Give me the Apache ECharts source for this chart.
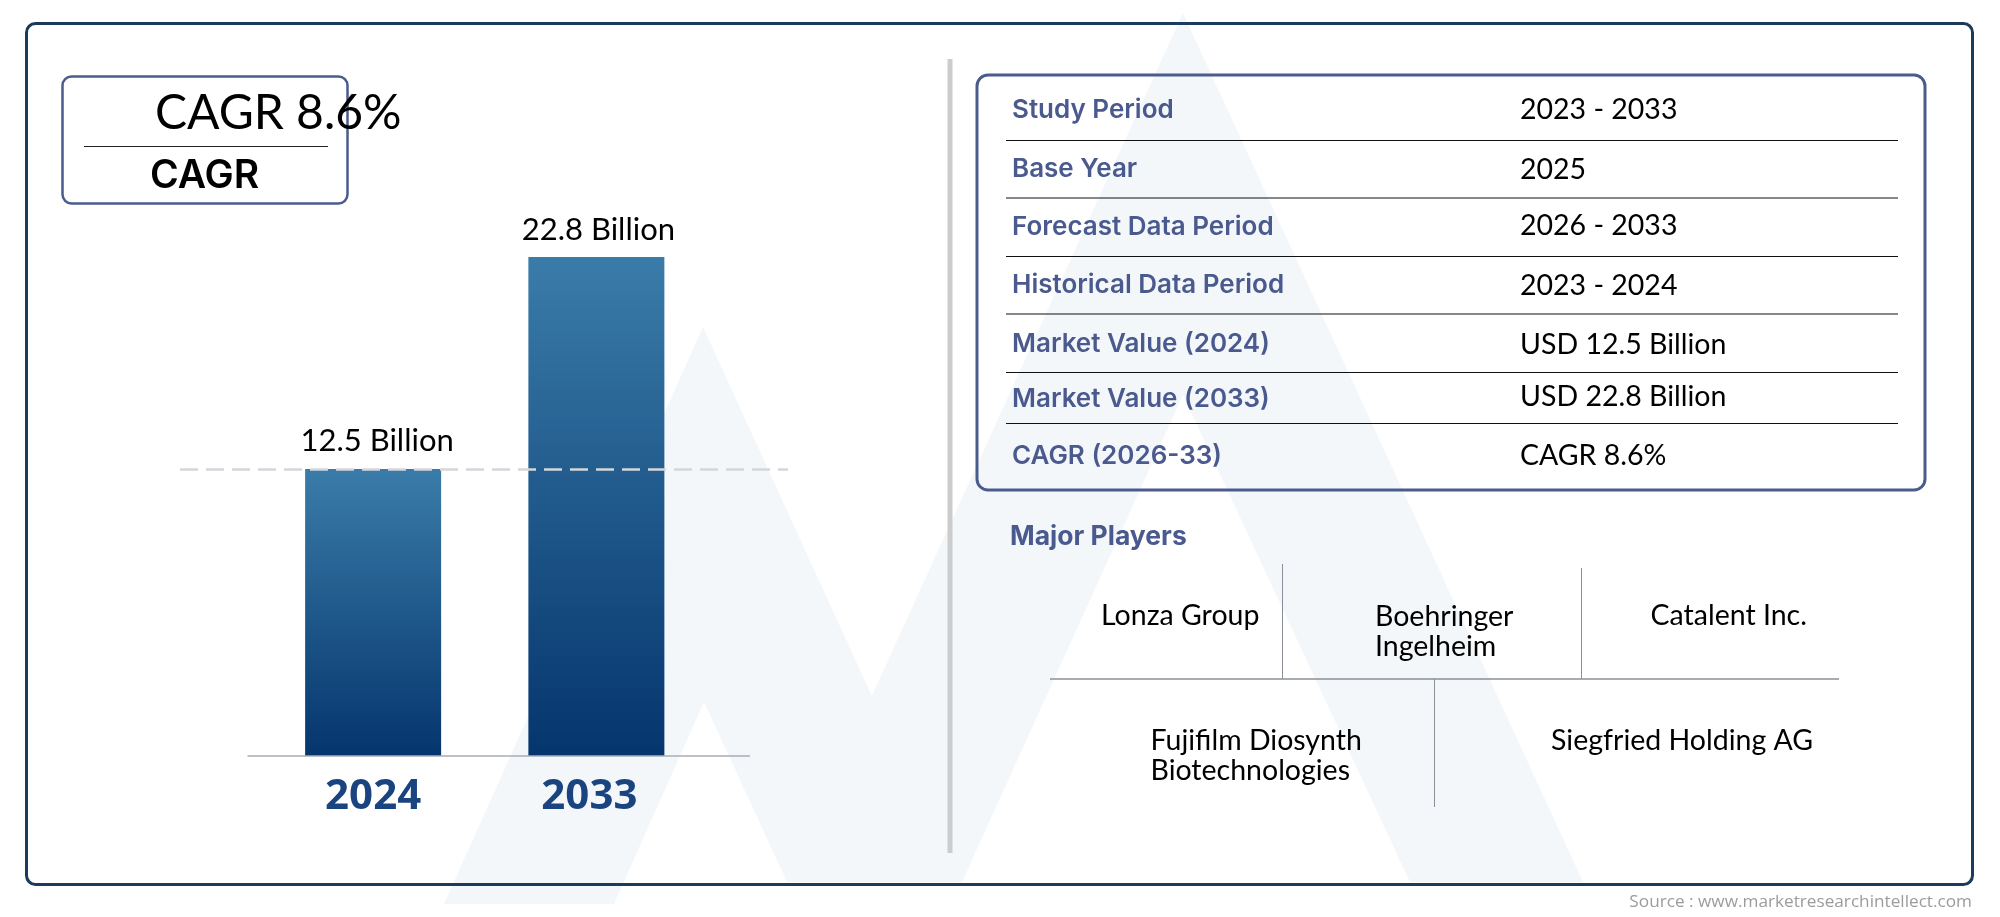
<!DOCTYPE html>
<html>
<head>
<meta charset="utf-8">
<style>
  html, body { margin: 0; padding: 0; background: #fff; }
  #main { width: 2000px; height: 917px; }
</style>
<script src="https://cdn.jsdelivr.net/npm/echarts@6/dist/echarts.min.js"></script>
</head>
<body>
<div id="main"></div>
<script>
// chart data
var years = ['2024', '2033'];
var marketValues = [12.5, 22.8];
var cagrValue = 'CAGR 8.6%';
var cagrLabel = 'CAGR';
var tableLabels = ['Study Period', 'Base Year', 'Forecast Data Period', 'Historical Data Period', 'Market Value (2024)', 'Market Value (2033)', 'CAGR (2026-33)'];
var tableValues = ['2023 - 2033', '2025', '2026 - 2033', '2023 - 2024', 'USD 12.5 Billion', 'USD 22.8 Billion', 'CAGR 8.6%'];
var playersTitle = 'Major Players';
var players = ['Lonza Group', 'Boehringer\nIngelheim', 'Catalent Inc.', 'Fujifilm Diosynth\nBiotechnologies', 'Siegfried Holding AG'];
var sourceText = 'Source : www.marketresearchintellect.com';

// layout, in page pixels
var labelRowY = [110, 169, 227.5, 285.5, 344, 399.5, 456.5];
var valueRowY = [110, 170, 226, 286, 345, 397, 455.5];
var separatorY = [140.5, 198, 256.5, 314, 372.5, 423.5];
var playerX = [1101, 1375, 1650.5, 1150.5, 1551];
var playerY = [616, 631.5, 616, 756, 741];
var labelOffsets = [[4, 0], [2, 0]];

var labelColor = '#4a5a8e';
var bodyFont = 'Lato';
var headFont = 'Inter';

function line(x1, y1, x2, y2, color, width) {
    return {
        type: 'line',
        silent: true,
        z: 1,
        shape: { x1: x1, y1: y1, x2: x2, y2: y2 },
        style: { stroke: color, lineWidth: width }
    };
}

function box(x, y, w, h, r, color, width) {
    return {
        type: 'rect',
        silent: true,
        z: 1,
        shape: { x: x, y: y, width: w, height: h, r: r },
        style: { fill: 'transparent', stroke: color, lineWidth: width }
    };
}

function text(str, x, y, font, size, weight, color, align, lineHeight) {
    return {
        type: 'text',
        silent: true,
        z: 5,
        style: {
            text: str,
            x: x,
            y: y,
            fill: color,
            font: weight + ' ' + size + 'px "' + font + '"',
            align: align || 'left',
            verticalAlign: 'middle',
            lineHeight: lineHeight
        }
    };
}

function watermark(points) {
    return {
        type: 'polygon',
        silent: true,
        z: -1,
        shape: { points: points },
        style: { fill: '#f4f7fa' }
    };
}

var graphics = [
    // pale logo behind everything
    watermark([[703, 327], [957, 882], [787, 882], [704, 702], [614, 904], [444, 904]]),
    watermark([[1183, 13], [1583, 882], [1410, 882], [1183, 395], [962, 882], [787, 882]]),
    // frames
    box(26.5, 23.5, 1946, 861, 9, '#1b3b5a', 3),
    box(62.5, 76.5, 285, 127, 9, '#4a5c8c', 2.5),
    box(977, 75, 948, 415, 11, '#4a5c8c', 3),
    line(950, 59, 950, 853, '#cccccc', 5),
    // CAGR box
    line(84, 146.5, 328, 146.5, '#222222', 1),
    text(cagrValue, 155, 113.5, bodyFont, 48, 'normal', '#000000'),
    text(cagrLabel, 150, 176, headFont, 39, 600, '#000000'),
    // players dividers
    line(1050, 679, 1839, 679, '#8a8f99', 1.5),
    line(1282.5, 564, 1282.5, 679, '#8a8f99', 1),
    line(1581.5, 568, 1581.5, 679, '#8a8f99', 1),
    line(1434.5, 679, 1434.5, 807, '#8a8f99', 1),
    text(playersTitle, 1010, 537, headFont, 26.5, 700, labelColor),
    text(sourceText, 1972, 902, 'Open Sans', 17.2, 'normal', '#9c9c9c', 'right')
];

tableLabels.forEach(function (label, i) {
    graphics.push(text(label, 1012, labelRowY[i], headFont, 26, 600, labelColor));
});
tableValues.forEach(function (value, i) {
    graphics.push(text(value, 1520, valueRowY[i], bodyFont, 28.5, 'normal', '#000000'));
});
separatorY.forEach(function (y) {
    graphics.push(line(1006, y, 1898, y, '#111111', 1.2));
});
players.forEach(function (name, i) {
    graphics.push(text(name, playerX[i], playerY[i], bodyFont, 28.5, 'normal', '#000000', 'left', 30));
});

var chart = echarts.init(document.getElementById('main'));

// the picture's bars do not start at a true zero, so the axis starts a little below it
var yMin = -1.445;
var barWidth = 136;
var barFill = new echarts.graphic.LinearGradient(0, 0, 0, 1, [
    { offset: 0, color: '#3a7ca9' },
    { offset: 1, color: '#05356d' }
]);

function renderBar(params, api) {
    var idx = api.value(0);
    var top = api.coord([idx, api.value(1)]);
    var base = api.coord([idx, yMin]);
    return {
        type: 'rect',
        shape: { x: top[0] - barWidth / 2, y: top[1], width: barWidth, height: base[1] - top[1] },
        style: { fill: barFill },
        textContent: {
            type: 'text',
            style: {
                text: api.value(1) + ' Billion',
                fill: '#000000',
                font: 'normal 31px "' + bodyFont + '"'
            }
        },
        textConfig: { position: 'top', distance: 12, offset: labelOffsets[params.dataIndex] }
    };
}

chart.setOption({
    animation: false,
    backgroundColor: '#ffffff',
    graphic: graphics,
    grid: { left: 261.5, top: 257, width: 446.5, height: 499 },
    xAxis: {
        type: 'category',
        data: [years[0], { value: years[1], textStyle: { padding: [0, 14, 0, 0] } }],
        axisLine: { show: false },
        axisTick: { show: false },
        axisLabel: {
            margin: 20,
            color: '#1a4480',
            fontFamily: 'Open Sans',
            fontWeight: 'bold',
            fontSize: 42
        }
    },
    yAxis: { type: 'value', show: false, min: yMin, max: marketValues[1] },
    series: [{
        type: 'custom',
        coordinateSystem: 'cartesian2d',
        z: 2,
        clip: false,
        renderItem: renderBar,
        encode: { x: 0, y: 1 },
        data: marketValues.map(function (v, i) { return [i, v]; }),
        markLine: {
            silent: true,
            symbol: 'none',
            label: { show: false },
            animation: false,
            data: [
                [
                    { x: 180, yAxis: marketValues[0], lineStyle: { color: '#d4d6da', width: 2.5, type: [18, 8] } },
                    { x: 788, yAxis: marketValues[0] }
                ],
                [
                    { x: 247.5, yAxis: yMin, lineStyle: { color: '#a9adb5', width: 1.5, type: 'solid' } },
                    { x: 750, yAxis: yMin }
                ]
            ]
        }
    }]
});
</script>
</body>
</html>
